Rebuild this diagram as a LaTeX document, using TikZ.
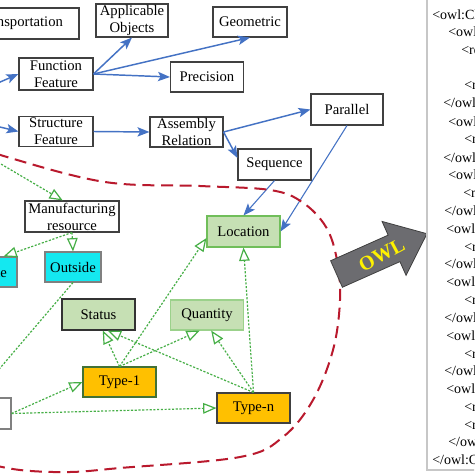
\documentclass[tikz,border=0pt]{standalone}
\usepackage{fontspec}
\setmainfont{Liberation Serif}
\usetikzlibrary{arrows.meta}

\definecolor{flowblue}{RGB}{68,114,196}
\definecolor{isagreen}{RGB}{70,175,70}
\definecolor{lassored}{RGB}{185,25,45}
\definecolor{leaffill}{RGB}{198,224,180}
\definecolor{leafline}{RGB}{112,190,90}
\definecolor{placefill}{RGB}{20,232,240}
\definecolor{typefill}{RGB}{255,192,0}
\definecolor{owlgray}{RGB}{108,108,112}

\tikzset{
  wh/.style 2 args={minimum width=#1*0.75pt, minimum height=#2*0.75pt},
  box/.style={draw=black!75, fill=white, line width=0.8pt, align=center,
    inner sep=1pt, font=\fontsize{11}{12.7}\selectfont, wh={73}{30}},
  leaf/.style={box, fill=leaffill, draw=leafline},
  place/.style={box, fill=placefill, draw=black!50},
  kind/.style={box, fill=typefill},
  flow/.style={draw=flowblue, line width=1.1pt,
    -{Stealth[length=9pt,width=7pt,inset=2pt]}},
  isa/.style={draw=isagreen, line width=0.9pt, dash pattern=on 1.6pt off 1.2pt,
    -{Triangle[length=10pt,width=8pt,fill=white,line width=0.9pt]}},
  code/.style={anchor=west, inner sep=0pt, font=\fontsize{10.5}{12}\selectfont}
}

\begin{document}
\begin{tikzpicture}[x=0.75pt,y=-0.75pt]

  \useasboundingbox (0,0) rectangle (474,474);
  \fill[white] (0,0) rectangle (474,474);
  \clip (0,0) rectangle (474,474);

  % features
  \node[box, wh={118}{31}] (trans) at (20,23.5) {Transportation};
  \node[box, wh={72}{33}] (appl) at (132,20.5) {Applicable\\Objects};
  \node[box, wh={74}{30}] (geom) at (250,22) {Geometric};
  \node[box, wh={74}{32}] (func) at (56,74) {Function\\Feature};
  \node[box] (prec) at (207,77) {Precision};
  \node[box, wh={74}{29}] (struc) at (56,131.5) {Structure\\Feature};
  \node[box] (assem) at (186.5,132) {Assembly\\Relation};
  \node[box, wh={72}{31}] (para) at (347,109.5) {Parallel};
  \node[box, wh={73}{31}] (seq) at (274.5,164.5) {Sequence};
  \coordinate (prod) at (-66,111);
  \coordinate (part) at (-60,128);

  % resources
  \node[box, wh={94}{31}] (manu) at (72,216.5) {Manufacturing\\resource};
  \node[place, wh={56}{30}] (outs) at (73,267) {Outside};
  \node[place, wh={56}{30}] (ins) at (-11,272) {Inside};
  \node[leaf, wh={73}{31}] (loc) at (243.5,231.5) {Location};
  \node[leaf, draw=black!80, wh={73}{31}] (stat) at (98.5,314.5) {Status};
  \node[leaf, draw=leafline!70] (quan) at (207,315) {Quantity};
  \node[kind, draw=leafline!60!black] (type1) at (119.5,382) {Type-1};
  \node[kind] (typen) at (253.5,408) {Type-n};
  \node[box, draw=black!50, wh={72}{31}] (lbox) at (-25,413.5) {};

  % blue relations
  \draw[flow] (prod) -- (func.west);
  \draw[flow] (prod) -- (struc.west);
  \draw[flow] (func.east) -- (appl.south);
  \draw[flow] (func.east) -- (geom.south);
  \draw[flow] (func.east) -- (prec.west);
  \draw[flow] (struc.east) -- (assem.west);
  \draw[flow] (assem.east) -- (para.west);
  \draw[flow] (assem.east) -- (seq.170);
  \draw[flow, line width=0.8pt] (seq.south) -- (loc.north);
  \draw[flow, line width=0.8pt] (para.south) -- (loc.east);

  % green generalisations
  \draw[isa] (part) -- (manu.120);
  \draw[isa] (manu.south) -- (outs.north);
  \draw[isa] (manu.south) -- (ins.47);
  \draw[isa] (outs.south) -- (lbox.north);
  \draw[isa] (lbox.east) -- (type1.west);
  \draw[isa] (lbox.east) -- (typen.west);
  \draw[isa] (type1.north) -- (stat.-75);
  \draw[isa] (type1.north) -- (quan.-115);
  \draw[isa] (type1.north) -- (loc.-170);
  \draw[isa] (typen.north) -- (stat.-60);
  \draw[isa] (typen.north) -- (quan.-75);
  \draw[isa] (typen.north) -- (loc.south);

  % lasso
  \draw[lassored, line width=1.5pt, dash pattern=on 9pt off 5pt]
    plot[smooth, tension=0.6] coordinates {(-20,146) (7,157) (105,182) (200,186)
      (270,190) (302,202) (326,227) (337,260) (340,300) (333,350) (313,400)
      (283,437) (240,457) (120,468) (70,472) (20,470) (-20,462)};

  % OWL arrow
  \begin{scope}[shift={(336.5,274)}, rotate=24]
    \filldraw[fill=owlgray, draw=black!75, line width=0.6pt]
      (0,-14.5) -- (63,-14.5) -- (63,-29.5) -- (99,0) -- (63,29.5) -- (63,14.5)
      -- (0,14.5) -- cycle;
    \node[rotate=28, text=yellow, font=\fontsize{15}{15}\bfseries] (owl) at (49,1) {OWL};
  \end{scope}

  % owl listing
  \draw[draw=black!22, fill=white, line width=0.8pt] (427,-5) rectangle (490,470);
  \node[code] (l1) at (432,15) {<owl:Class rdf:ID="Location">};
  \node[code] (l2) at (448,32.8) {<owl:equivalentClass>};
  \node[code] (l3) at (461,50.6) {<rdf:Description>};
  \node[code] (l5) at (464,86.2) {<rdf:type>};
  \node[code] (l6) at (443,104) {</owl:equivalentClass>};
  \node[code] (l7) at (448,121.8) {<owl:subClassOf>};
  \node[code] (l8) at (464,139.6) {<rdf:Description>};
  \node[code] (l9) at (443,157.4) {</owl:subClassOf>};
  \node[code] (l10) at (448,175.2) {<owl:Class>};
  \node[code] (l11) at (463,193) {<rdfs:label>};
  \node[code] (l12) at (444,210.8) {</owl:Class>};
  \node[code] (l13) at (446,228.6) {<owl:Class>};
  \node[code] (l14) at (464,246.4) {<rdfs:label>};
  \node[code] (l15) at (444,264.2) {</owl:Class>};
  \node[code] (l16) at (446,282) {<owl:Class>};
  \node[code] (l17) at (464,299.8) {<rdfs:label>};
  \node[code] (l18) at (444,317.6) {</owl:Class>};
  \node[code] (l19) at (446,335.4) {<owl:Class>};
  \node[code] (l20) at (464,353.2) {<rdfs:label>};
  \node[code] (l21) at (444,371) {</owl:Class>};
  \node[code] (l22) at (446,388.8) {<owl:Class>};
  \node[code] (l23) at (464,406.6) {<rdfs:label>};
  \node[code] (l24) at (464,424.4) {<rdfs:comment>};
  \node[code] (l25) at (448,442.2) {</owl:Class>};
  \node[code] (l26) at (432,460) {</owl:Class>};
\end{tikzpicture}
\end{document}
